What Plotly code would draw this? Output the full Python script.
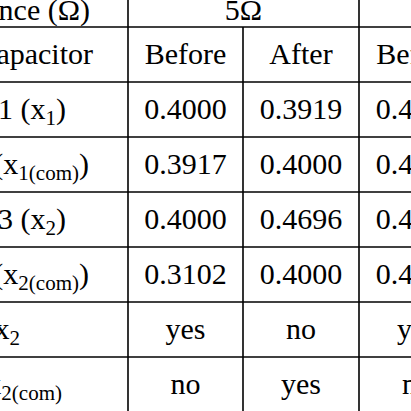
import plotly.graph_objects as go

# table content (the reference is a crop of a wider table)
row_labels = ["Resistance (Ω)", "Capacitor", "C1 (x<sub>1</sub>)", "C2 (x<sub>1(com)</sub>)",
              "C3 (x<sub>2</sub>)", "C4 (x<sub>2(com)</sub>)", "Switch x<sub>2</sub>",
              "Switch x<sub>2(com)</sub>"]
group_headers = ["5Ω", "10Ω"]
sub_headers = ["Before", "After", "Before"]
col_before_5 = ["0.4000", "0.3917", "0.4000", "0.3102", "yes", "no"]
col_after_5 = ["0.3919", "0.4000", "0.4696", "0.4000", "no", "yes"]
col_before_10 = ["0.4000", "0.4000", "0.4000", "0.4000", "yes", "no"]

# geometry in pixels
W = 411
vlines = [128, 243, 359, 475]
hlines = [27, 82, 137, 192, 247, 302, 357, 412]
row_mid = [12] + [(hlines[i] + hlines[i + 1]) / 2 + 2 for i in range(len(hlines) - 1)]
col_mid = [(vlines[i] + vlines[i + 1]) / 2 for i in range(3)]

FONT = dict(family="Liberation Serif, Times New Roman, serif", size=30, color="black")

fig = go.Figure()

# first column, right edges of the visible text
label_right = [90, 93, 66, 89, 66, 89, 20, 62]
fig.add_trace(go.Scatter(x=label_right, y=row_mid, mode="text", text=row_labels,
                         textposition="middle left", textfont=FONT, cliponaxis=True,
                         hoverinfo="skip"))

# group headers
fig.add_trace(go.Scatter(x=[(vlines[0] + vlines[2]) / 2, (vlines[2] + 590) / 2],
                         y=[row_mid[0]] * 2, mode="text", text=group_headers,
                         textfont=FONT, cliponaxis=True, hoverinfo="skip"))
# sub headers
fig.add_trace(go.Scatter(x=col_mid, y=[row_mid[1]] * 3, mode="text", text=sub_headers,
                         textfont=FONT, cliponaxis=True, hoverinfo="skip"))
for cx, col in zip(col_mid, [col_before_5, col_after_5, col_before_10]):
    fig.add_trace(go.Scatter(x=[cx] * len(col), y=row_mid[2:], mode="text", text=col,
                             textfont=FONT, cliponaxis=True, hoverinfo="skip"))

line = dict(color="black", width=1.6)
for y in hlines[:-1]:
    fig.add_shape(type="line", x0=0, x1=W, y0=y, y1=y, line=line)
for x in [vlines[0], vlines[2]]:
    fig.add_shape(type="line", x0=x, x1=x, y0=-5, y1=W + 5, line=line)
fig.add_shape(type="line", x0=vlines[1], x1=vlines[1], y0=hlines[0], y1=W + 5, line=line)

fig.update_layout(
    width=W, height=W, margin=dict(l=0, r=0, t=0, b=0),
    plot_bgcolor="white", paper_bgcolor="white", showlegend=False,
)
fig.update_xaxes(range=[0, W], visible=False, fixedrange=True)
fig.update_yaxes(range=[W, 0], visible=False, fixedrange=True)

fig.write_html("out.html", config={"displayModeBar": False},
               post_script="document.body.style.margin='0';"
                           "document.body.style.overflow='hidden';")
